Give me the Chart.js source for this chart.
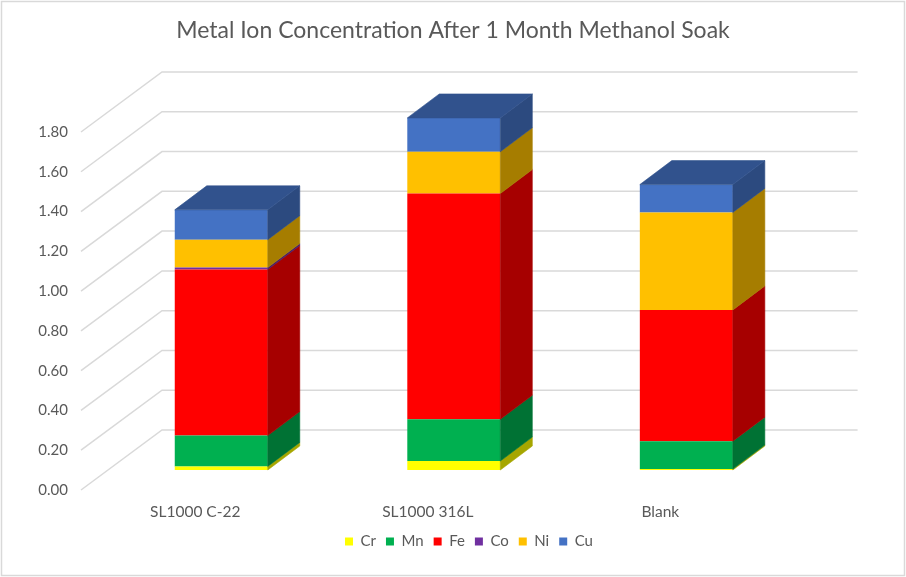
<!DOCTYPE html>
<html>
<head>
<meta charset="utf-8">
<script src="https://cdn.jsdelivr.net/npm/chart.js@4.4.0/dist/chart.umd.min.js"></script>
<style>
  html, body { margin: 0; padding: 0; background: #fff; }
  #wrap { width: 906px; height: 577px; }
</style>
</head>
<body>
<div id="wrap"><canvas id="metal_ions" width="906" height="577"></canvas></div>
<script>
// data (ppm-ish, mg/L)
let categories = ["SL1000 C-22", "SL1000 316L", "Blank"];
let cr = [0.018, 0.045, 0.005];
let mn = [0.155, 0.21, 0.14];
let fe = [0.835, 1.135, 0.66];
let co = [0.01, 0, 0];
let ni = [0.14, 0.21, 0.49];
let cu = [0.15, 0.17, 0.14];
let yTicks = [0, 0.2, 0.4, 0.6, 0.8, 1.0, 1.2, 1.4, 1.6, 1.8];

const FONT = "Lato, 'Open Sans', sans-serif";
const TEXT = "#595959";
const GRID = "#d9d9d9";
const DEPTH = {x: 32, y: -24};      // depth of a bar
const WALL = {x: 81, y: -60};       // depth of the floor
const BAR_SHIFT = {x: 26, y: -20};  // bars stand in the middle of the floor
const LEGEND_SHIFT = 16;

let series = [
  {label: "Cr", data: cr, color: "#FFFF00"},
  {label: "Mn", data: mn, color: "#00B050"},
  {label: "Fe", data: fe, color: "#FF0000"},
  {label: "Co", data: co, color: "#7030A0"},
  {label: "Ni", data: ni, color: "#FFC000"},
  {label: "Cu", data: cu, color: "#4472C4"}
];

const shade = (hex, f) => {
  let n = parseInt(hex.slice(1), 16);
  let r = Math.round(((n >> 16) & 255) * f);
  let g = Math.round(((n >> 8) & 255) * f);
  let b = Math.round((n & 255) * f);
  return "rgb(" + r + "," + g + "," + b + ")";
};

const poly = (ctx, pts, color) => {
  ctx.beginPath();
  pts.forEach((p, i) => i ? ctx.lineTo(p[0], p[1]) : ctx.moveTo(p[0], p[1]));
  ctx.closePath();
  ctx.fillStyle = color;
  ctx.strokeStyle = color;
  ctx.lineWidth = 0.6;
  ctx.fill();
  ctx.stroke();
};

const box3d = {
  id: "box3d",
  afterLayout(chart) {
    chart.legend.left += LEGEND_SHIFT;
    chart.legend.right += LEGEND_SHIFT;
  },
  beforeDraw(chart) {
    let ctx = chart.ctx;
    ctx.save();
    ctx.fillStyle = "#fff";
    ctx.fillRect(0, 0, chart.width, chart.height);
    ctx.strokeStyle = GRID;
    ctx.lineWidth = 1.5;
    ctx.strokeRect(1.5, 1.5, chart.width - 3, chart.height - 3);
    ctx.restore();
  },
  beforeDatasetsDraw(chart) {
    let {ctx, chartArea, scales: {y}} = chart;
    // side wall + back wall gridlines
    ctx.save();
    ctx.strokeStyle = GRID;
    ctx.lineWidth = 1.5;
    yTicks.forEach(v => {
      let py = y.getPixelForValue(v);
      ctx.beginPath();
      ctx.moveTo(chartArea.left + 2, py);
      ctx.lineTo(chartArea.left + 2 + WALL.x, py + WALL.y);
      ctx.lineTo(chartArea.right + WALL.x, py + WALL.y);
      ctx.stroke();
    });
    ctx.restore();
    ctx.save();
    ctx.translate(BAR_SHIFT.x, BAR_SHIFT.y);
  },
  afterDatasetsDraw(chart) {
    let ctx = chart.ctx;
    categories.forEach((c, i) => {
      let top = null;
      series.forEach((s, d) => {
        if (!s.data[i]) return;
        let bar = chart.getDatasetMeta(d).data[i];
        let {x, y, base, width} = bar.getProps(["x", "y", "base", "width"], true);
        let r = x + width / 2;
        poly(ctx, [[r, y], [r + DEPTH.x, y + DEPTH.y], [r + DEPTH.x, base + DEPTH.y], [r, base]], shade(s.color, 0.65));
        top = {x: x, y: y, width: width, color: s.color};
      });
      if (top) {
        let l = top.x - top.width / 2, r = top.x + top.width / 2;
        poly(ctx, [[l, top.y], [r, top.y], [r + DEPTH.x, top.y + DEPTH.y], [l + DEPTH.x, top.y + DEPTH.y]], shade(top.color, 0.72));
      }
    });
    ctx.restore();
  }
};

let chart = document.querySelector("#metal_ions");
new Chart(chart, {
  type: "bar",
  data: {
    labels: categories,
    datasets: series.map(s => ({
      label: s.label,
      data: s.data,
      backgroundColor: s.color,
      borderWidth: 0,
      barPercentage: 0.4,
      categoryPercentage: 1,
      clip: false
    }))
  },
  options: {
    responsive: false,
    animation: false,
    devicePixelRatio: 1,
    layout: {padding: {top: 0, left: 0, right: 0, bottom: 18}},
    plugins: {
      title: {
        display: true,
        text: "Metal Ion Concentration After 1 Month Methanol Soak",
        color: TEXT,
        font: {family: FONT, size: 23, weight: "normal"},
        padding: {top: 17.2, bottom: 47.4}
      },
      legend: {
        position: "bottom",
        labels: {
          color: TEXT,
          font: {family: FONT, size: 15},
          boxWidth: 8,
          boxHeight: 8,
          padding: 10
        }
      },
      tooltip: {enabled: false}
    },
    scales: {
      x: {
        stacked: true,
        grid: {display: false, drawTicks: false},
        border: {display: false},
        ticks: {color: TEXT, font: {family: FONT, size: 15.5}, padding: 13},
        afterFit: s => { s.height = 34; }
      },
      y: {
        stacked: true,
        min: 0,
        max: 2.0,
        grid: {display: false, drawTicks: false},
        border: {display: false},
        ticks: {
          stepSize: 0.2,
          color: TEXT,
          font: {family: FONT, size: 15},
          padding: 11,
          callback: v => v > 1.81 ? "" : v.toFixed(2)
        },
        afterFit: s => { s.width = 79; }
      },
      y2: {
        position: "right",
        display: true,
        grid: {display: false, drawTicks: false},
        border: {display: false},
        ticks: {display: false},
        afterFit: s => { s.width = 129.4; }
      }
    }
  },
  plugins: [box3d]
});
</script>
</body>
</html>
